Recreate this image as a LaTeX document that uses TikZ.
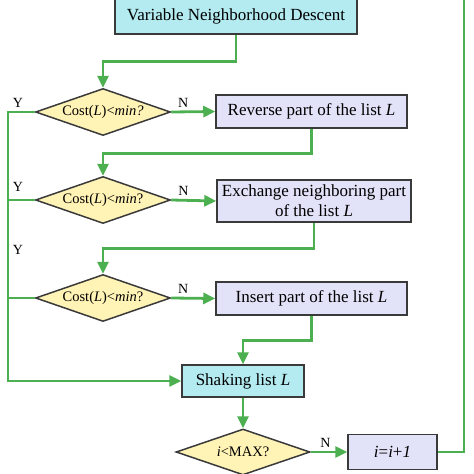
\documentclass[tikz,border=0pt]{standalone}
\usepackage{fontspec}
\setmainfont{Liberation Serif}
\definecolor{FlowGreen}{HTML}{4CAF50}
\definecolor{BoxCyan}{HTML}{B3EBF0}
\definecolor{BoxLilac}{HTML}{E2E2F8}
\definecolor{DiaYellow}{HTML}{FFF3B5}
\definecolor{EdgeGray}{HTML}{3A3A3A}
\usetikzlibrary{arrows.meta, shapes.geometric}

\begin{document}
\begin{tikzpicture}[x=1pt, y=-1pt, >={Triangle[length=12pt, width=11pt]},
  stepbox/.style={draw=EdgeGray, line width=1.5pt, rectangle, inner sep=2pt,
    font=\fontsize{17}{20}\selectfont, align=center},
  mainbox/.style={stepbox, fill=BoxCyan},
  subbox/.style={stepbox, fill=BoxLilac},
  test/.style={draw=EdgeGray, line width=1.5pt, diamond, fill=DiaYellow,
    aspect=2.9, inner sep=0pt, minimum width=135pt, minimum height=47pt,
    font=\fontsize{14.5}{17}\selectfont},
  flow/.style={draw=FlowGreen, line width=2.8pt},
  lbl/.style={font=\fontsize{14}{16}\selectfont}]
  \useasboundingbox (0,0) rectangle (474,474);

  % boxes
  \node[mainbox, minimum width=242pt, minimum height=36pt] (vnd) at (236,16) {Variable Neighborhood Descent};
  \node[test] (c1) at (103,112) {Cost(\textit{L})<\textit{min?}};
  \node[subbox, minimum width=191pt, minimum height=33pt] (rev) at (311.5,111.5) {Reverse part of the list \textit{L}};
  \node[test] (c2) at (103,200) {Cost(\textit{L})<\textit{min}?};
  \node[subbox, minimum width=194pt, minimum height=42pt] (exch) at (314,201) {Exchange neighboring part\\of the list \textit{L}};
  \node[test] (c3) at (103,298) {Cost(\textit{L})<\textit{min}?};
  \node[subbox, minimum width=191pt, minimum height=33pt] (ins) at (311.5,298.5) {Insert part of the list \textit{L}};
  \node[mainbox, minimum width=122pt, minimum height=32pt] (shake) at (243,381) {Shaking list \textit{L}};
  \node[test, minimum width=134pt, minimum height=46pt] (cmax) at (243,452) {\textit{i}<MAX?};
  \node[subbox, minimum width=89pt, minimum height=35pt] (inc) at (392.5,452) {\textit{i}=\textit{i}+\textit{1}};

  \coordinate (ybus) at (8,381);
  \coordinate (back) at (464,0);

  % main chain
  \draw[flow, ->] (vnd.south) -- ++(0,27) -| (c1.north);
  \draw[flow, ->] (c1.east) -- (rev.west) node[lbl, pos=0.27, above] {N};
  \draw[flow, ->] (rev.south) -- ++(0,25) -| (c2.north);
  \draw[flow, ->] (c2.east) -- (exch.west) node[lbl, pos=0.27, above] {N};
  \draw[flow, ->] (exch.south) -- ++(0,26) -| (c3.north);
  \draw[flow, ->] (c3.east) -- (ins.west) node[lbl, pos=0.27, above] {N};
  \draw[flow, ->] (ins.south) -- ++(0,25) -| (shake.north);
  \draw[flow, ->] (shake.south) -- (cmax.north);
  \draw[flow, ->] (cmax.east) -- (inc.west) node[lbl, pos=0.4, above] {N};
  \draw[flow] (inc.east) -| (back);

  % Y branches
  \draw[flow, ->] (c1.west) -| (ybus) -- (shake.west);
  \draw[flow] (c2.west) -- (c2.west -| ybus);
  \draw[flow] (c3.west) -- (c3.west -| ybus);
  \node[lbl] (y1) at (18,103) {Y};
  \node[lbl] (y2) at (18,187) {Y};
  \node[lbl] (y3) at (18,250) {Y};
\end{tikzpicture}
\end{document}
